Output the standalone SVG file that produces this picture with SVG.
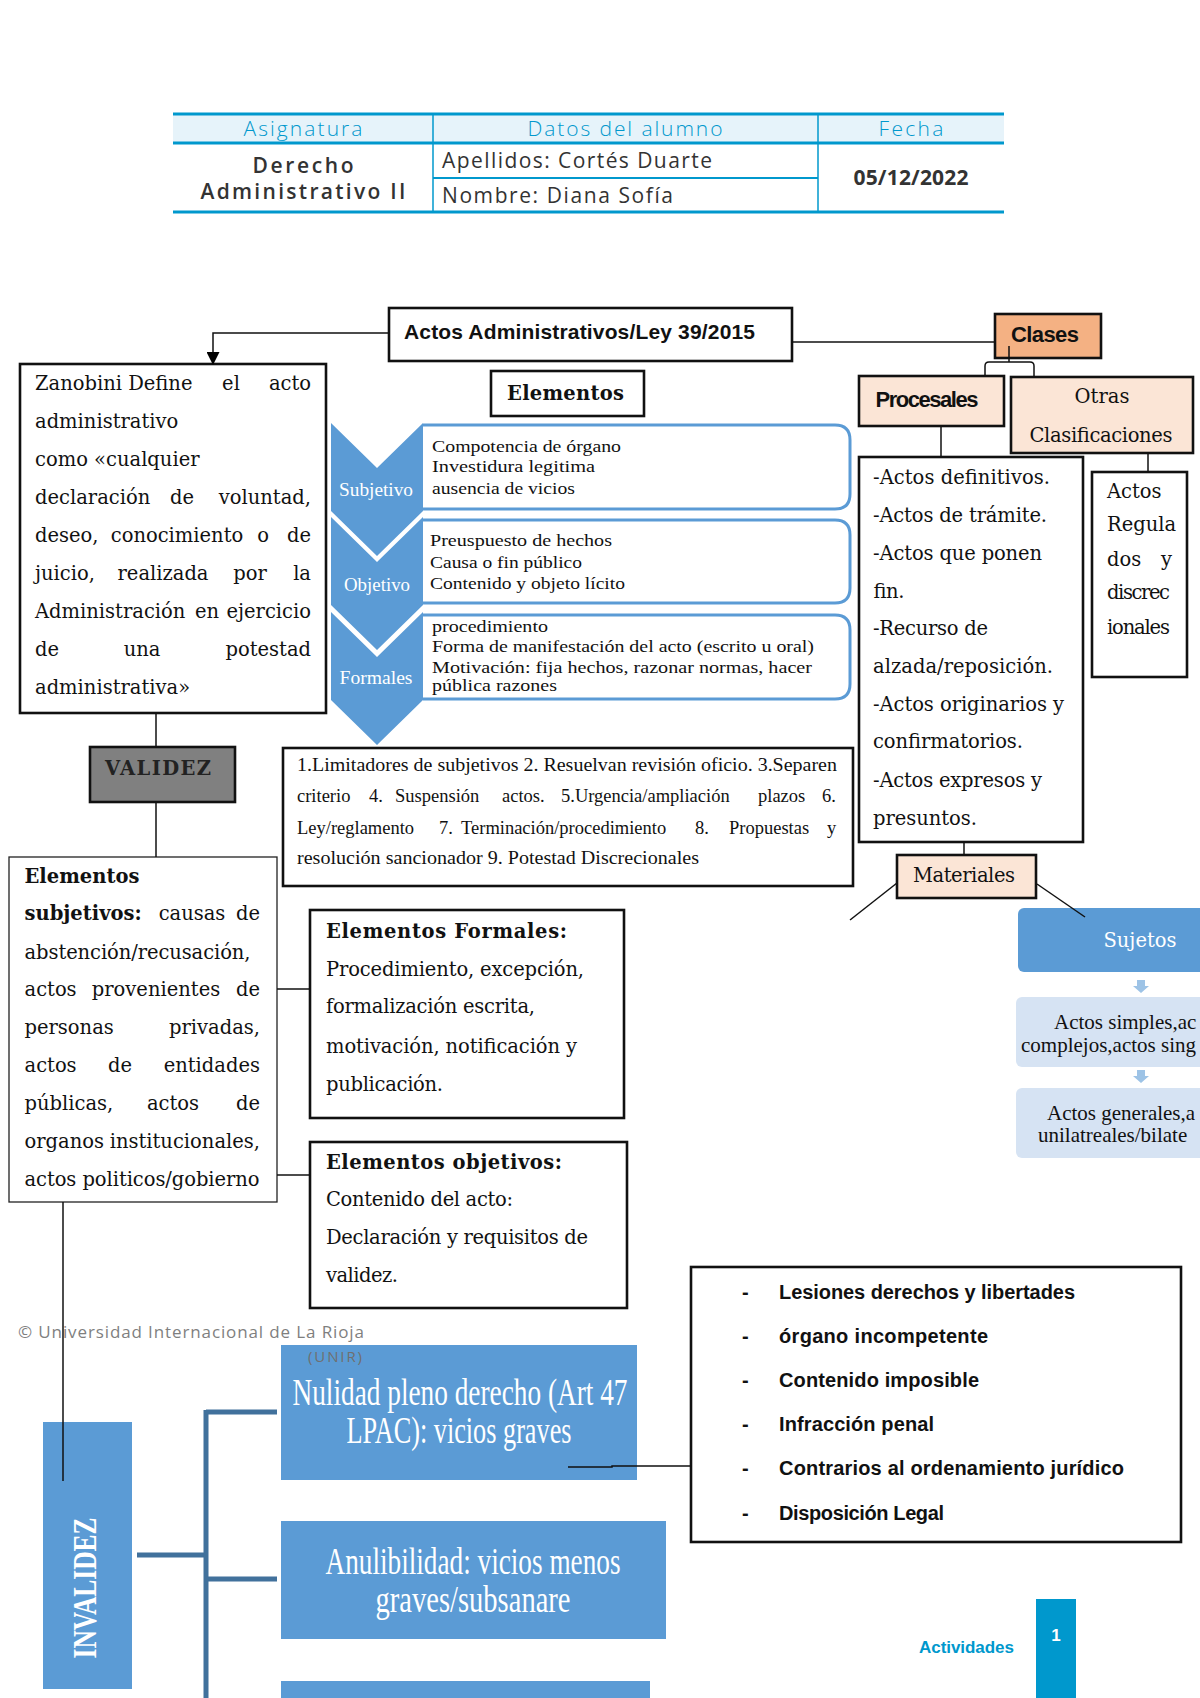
<svg xmlns="http://www.w3.org/2000/svg" width="1200" height="1698" viewBox="0 0 1200 1698">
<defs>
<marker id="arr" viewBox="0 0 10 10" refX="10" refY="5" markerWidth="13" markerHeight="13" markerUnits="userSpaceOnUse" orient="auto"><path d="M0,0 L10,5 L0,10 z" fill="#000"/></marker>
</defs>
<style>
.bx{fill:#fff;stroke:#111;stroke-width:2.6}
.tb{fill:#fff;stroke:#222;stroke-width:1.3}
.peach{fill:#FBE5D6;stroke:#111;stroke-width:2.6}
.cam{font-family:"DejaVu Serif","Liberation Serif",serif;font-size:19.5px;fill:#111}
.camb{font-family:"DejaVu Serif","Liberation Serif",serif;font-size:19.5px;font-weight:bold;fill:#111}
.cond{font-family:"Liberation Serif",serif;fill:#111}
.cal{font-family:"Liberation Sans",Arial,sans-serif;font-weight:bold;fill:#111}
.les{font-family:"Liberation Sans",Arial,sans-serif;font-weight:bold;font-size:20px;fill:#111}
.hd{font-family:"Open Sans","Liberation Sans",sans-serif;font-size:21px}
.conn{stroke:#111;stroke-width:1.5;fill:none}
.bconn{stroke:#41719C;stroke-width:5;fill:none}
.blue{fill:#5B9BD5}
.bout{fill:#fff;stroke:#5B9BD5;stroke-width:3}
.lt{fill:#D6E3F3}
</style>
<rect width="1200" height="1698" fill="#fff"/>

<g id="header">
<rect x="173" y="114" width="831" height="29" fill="#E6F3FA"/>
<line x1="173" y1="114" x2="1004" y2="114" stroke="#0098CD" stroke-width="3"/>
<line x1="173" y1="143" x2="1004" y2="143" stroke="#0098CD" stroke-width="3"/>
<line x1="433" y1="178" x2="818" y2="178" stroke="#0098CD" stroke-width="2"/>
<line x1="173" y1="212" x2="1004" y2="212" stroke="#0098CD" stroke-width="3"/>
<line x1="433" y1="114" x2="433" y2="212" stroke="#0098CD" stroke-width="1.5"/>
<line x1="818" y1="114" x2="818" y2="212" stroke="#0098CD" stroke-width="1.5"/>
<text class="hd" x="303" y="136" text-anchor="middle" fill="#0098CD" font-weight="300" textLength="119">Asignatura</text>
<text class="hd" x="625" y="136" text-anchor="middle" fill="#0098CD" font-weight="300" textLength="195">Datos del alumno</text>
<text class="hd" x="911" y="136" text-anchor="middle" fill="#0098CD" font-weight="300" textLength="65">Fecha</text>
<text class="hd" x="303" y="173" text-anchor="middle" fill="#333" font-weight="600" textLength="101">Derecho</text>
<text class="hd" x="303" y="199" text-anchor="middle" fill="#333" font-weight="600" textLength="205">Administrativo II</text>
<text class="hd" x="442" y="168" fill="#333" textLength="270">Apellidos: Cortés Duarte</text>
<text class="hd" x="442" y="203" fill="#333" textLength="231">Nombre: Diana Sofía</text>
<text class="hd" x="911" y="185" text-anchor="middle" fill="#333" font-weight="bold" font-size="20" textLength="115">05/12/2022</text>
</g>

<g id="actos">
<rect class="bx" x="389" y="308" width="403" height="53"/>
<text class="cal" x="404" y="339" font-size="21" textLength="351">Actos Administrativos/Ley 39/2015</text>
</g>

<g id="zanobini">
<rect class="bx" x="20" y="364" width="306" height="349"/>
<text class="cam" x="35" y="390">Zanobini Define</text>
<text class="cam" x="231" y="390" text-anchor="middle">el</text>
<text class="cam" x="311" y="390" text-anchor="end">acto</text>
<text class="cam" x="35" y="428">administrativo</text>
<text class="cam" x="35" y="466">como «cualquier</text>
<text class="cam" x="35" y="504">declaración</text>
<text class="cam" x="182" y="504" text-anchor="middle">de</text>
<text class="cam" x="311" y="504" text-anchor="end">voluntad,</text>
<text class="cam" x="35" y="542">deseo,</text>
<text class="cam" x="177" y="542" text-anchor="middle">conocimiento</text>
<text class="cam" x="263" y="542" text-anchor="middle">o</text>
<text class="cam" x="311" y="542" text-anchor="end">de</text>
<text class="cam" x="35" y="580">juicio,</text>
<text class="cam" x="163" y="580" text-anchor="middle">realizada</text>
<text class="cam" x="250" y="580" text-anchor="middle">por</text>
<text class="cam" x="311" y="580" text-anchor="end">la</text>
<text class="cam" x="35" y="618">Administración</text>
<text class="cam" x="207" y="618" text-anchor="middle">en</text>
<text class="cam" x="311" y="618" text-anchor="end">ejercicio</text>
<text class="cam" x="35" y="656">de</text>
<text class="cam" x="142" y="656" text-anchor="middle">una</text>
<text class="cam" x="311" y="656" text-anchor="end">potestad</text>
<text class="cam" x="35" y="694">administrativa»</text>
</g>

<g id="elementos">
<rect class="bx" x="491" y="371" width="153" height="45"/>
<text class="camb" x="507" y="400" font-size="20" textLength="117">Elementos</text>
</g>

<g id="box-subjetivo">
<path class="bout" d="M423,425 H835 Q850,425 850,440 V494 Q850,509 835,509 H423"/>
<text class="cond" font-size="17.5" x="432" y="452" textLength="189" lengthAdjust="spacingAndGlyphs">Compotencia de órgano</text>
<text class="cond" font-size="17.5" x="432" y="472" textLength="163" lengthAdjust="spacingAndGlyphs">Investidura legitima</text>
<text class="cond" font-size="17.5" x="432" y="494" textLength="143" lengthAdjust="spacingAndGlyphs">ausencia de vicios</text>
</g>
<g id="box-objetivo">
<path class="bout" d="M423,520 H835 Q850,520 850,535 V588 Q850,603 835,603 H423"/>
<text class="cond" font-size="17.5" x="430" y="546" textLength="182" lengthAdjust="spacingAndGlyphs">Preuspuesto de hechos</text>
<text class="cond" font-size="17.5" x="430" y="568" textLength="152" lengthAdjust="spacingAndGlyphs">Causa o fin público</text>
<text class="cond" font-size="17.5" x="430" y="589" textLength="195" lengthAdjust="spacingAndGlyphs">Contenido y objeto lícito</text>
</g>
<g id="box-formales">
<path class="bout" d="M423,615 H835 Q850,615 850,630 V684 Q850,699 835,699 H423"/>
<text class="cond" font-size="17.5" x="432" y="632" textLength="116" lengthAdjust="spacingAndGlyphs">procedimiento</text>
<text class="cond" font-size="17.5" x="432" y="652" textLength="382" lengthAdjust="spacingAndGlyphs">Forma de manifestación del acto (escrito u oral)</text>
<text class="cond" font-size="17.5" x="432" y="673" textLength="380" lengthAdjust="spacingAndGlyphs">Motivación:  fija hechos, razonar normas, hacer</text>
<text class="cond" font-size="17.5" x="432" y="691" textLength="125" lengthAdjust="spacingAndGlyphs">pública razones</text>
</g>

<g id="chevron-subjetivo">
<polygon class="blue" points="331,423 377,468 423,423 423,511 377,556 331,511"/>
<text class="cond" font-size="19" x="376" y="496" text-anchor="middle" textLength="74" lengthAdjust="spacingAndGlyphs" style="fill:#fff">Subjetivo</text>
</g>
<g id="chevron-objetivo">
<polygon class="blue" points="331,517 377,562 423,517 423,605 377,650 331,605"/>
<text class="cond" font-size="19" x="377" y="591" text-anchor="middle" textLength="66" lengthAdjust="spacingAndGlyphs" style="fill:#fff">Objetivo</text>
</g>
<g id="chevron-formales">
<polygon class="blue" points="331,612 377,657 423,612 423,700 377,745 331,700"/>
<text class="cond" font-size="19" x="376" y="684" text-anchor="middle" textLength="73" lengthAdjust="spacingAndGlyphs" style="fill:#fff">Formales</text>
</g>

<g id="numerados">
<rect class="bx" x="283" y="748" width="570" height="138"/>
<text class="cond" font-size="18.5" x="297" y="771" textLength="540" lengthAdjust="spacingAndGlyphs">1.Limitadores de subjetivos 2. Resuelvan revisión oficio. 3.Separen</text>
<text class="cond" font-size="18.5" y="802"><tspan x="297">criterio</tspan><tspan x="369">4.</tspan><tspan x="395">Suspensión</tspan><tspan x="502">actos.</tspan><tspan x="561">5.Urgencia/ampliación</tspan><tspan x="758">plazos</tspan><tspan x="822">6.</tspan></text>
<text class="cond" font-size="18.5" y="834"><tspan x="297">Ley/reglamento</tspan><tspan x="439">7.</tspan><tspan x="461">Terminación/procedimiento</tspan><tspan x="695">8.</tspan><tspan x="729">Propuestas</tspan><tspan x="827">y</tspan></text>
<text class="cond" font-size="18.5" x="297" y="864" textLength="402" lengthAdjust="spacingAndGlyphs">resolución sancionador 9. Potestad Discrecionales</text>
</g>

<g id="validez">
<rect x="90" y="747" width="145" height="55" fill="#808080" stroke="#111" stroke-width="2.6"/>
<text class="camb" x="158" y="775" font-size="20" text-anchor="middle" textLength="106" style="fill:#222">VALIDEZ</text>
</g>

<g id="subjetivos">
<rect class="tb" x="9" y="857" width="268" height="345"/>
<text class="camb" x="24.5" y="883">Elementos</text>
<text class="camb" x="24.5" y="920">subjetivos:</text>
<text class="cam" x="192" y="920" text-anchor="middle">causas</text>
<text class="cam" x="260" y="920" text-anchor="end">de</text>
<text class="cam" x="24.5" y="959" textLength="226">abstención/recusación,</text>
<text class="cam" x="24.5" y="996">actos</text>
<text class="cam" x="156" y="996" text-anchor="middle">provenientes</text>
<text class="cam" x="260" y="996" text-anchor="end">de</text>
<text class="cam" x="24.5" y="1034">personas</text>
<text class="cam" x="260" y="1034" text-anchor="end">privadas,</text>
<text class="cam" x="24.5" y="1072">actos</text>
<text class="cam" x="120" y="1072" text-anchor="middle">de</text>
<text class="cam" x="260" y="1072" text-anchor="end">entidades</text>
<text class="cam" x="24.5" y="1110">públicas,</text>
<text class="cam" x="173" y="1110" text-anchor="middle">actos</text>
<text class="cam" x="260" y="1110" text-anchor="end">de</text>
<text class="cam" x="24.5" y="1148">organos</text>
<text class="cam" x="260" y="1148" text-anchor="end">institucionales,</text>
<text class="cam" x="24.5" y="1186" textLength="235">actos politicos/gobierno</text>
</g>

<g id="formales">
<rect class="bx" x="310" y="910" width="314" height="208"/>
<text class="camb" x="326" y="938" textLength="241">Elementos Formales:</text>
<text class="cam" x="326" y="976" textLength="258">Procedimiento, excepción,</text>
<text class="cam" x="326" y="1013" textLength="209">formalización escrita,</text>
<text class="cam" x="326" y="1053" textLength="251">motivación, notificación y</text>
<text class="cam" x="326" y="1091" textLength="117">publicación.</text>
</g>

<g id="objetivos">
<rect class="bx" x="310" y="1142" width="317" height="166"/>
<text class="camb" x="326" y="1169" textLength="236">Elementos objetivos:</text>
<text class="cam" x="326" y="1206" textLength="187">Contenido del acto:</text>
<text class="cam" x="326" y="1244" textLength="262">Declaración y requisitos de</text>
<text class="cam" x="326" y="1282" textLength="72">validez.</text>
</g>

<g id="clases">
<rect x="995" y="314" width="106" height="44" fill="#F4B183" stroke="#111" stroke-width="2.6"/>
<text class="cal" x="1045" y="342" font-size="22" text-anchor="middle" textLength="68">Clases</text>
</g>

<g id="procesales">
<rect class="peach" x="859" y="376" width="145" height="50"/>
<text class="cal" x="927" y="407" font-size="22" text-anchor="middle" textLength="103">Procesales</text>
</g>

<g id="otras">
<rect class="peach" x="1011" y="377" width="182" height="76"/>
<text class="cam" x="1102" y="403" text-anchor="middle">Otras</text>
<text class="cam" x="1101" y="442" text-anchor="middle" textLength="143">Clasificaciones</text>
</g>

<g id="lista-procesales">
<rect class="bx" x="859" y="457" width="224" height="385"/>
<text class="cam" x="873" y="484" textLength="177">-Actos definitivos.</text>
<text class="cam" x="873" y="522" textLength="174">-Actos de trámite.</text>
<text class="cam" x="873" y="560" textLength="169">-Actos que ponen</text>
<text class="cam" x="873" y="598" textLength="31">fin.</text>
<text class="cam" x="873" y="635" textLength="115">-Recurso de</text>
<text class="cam" x="873" y="673" textLength="180">alzada/reposición.</text>
<text class="cam" x="873" y="711" textLength="191">-Actos originarios y</text>
<text class="cam" x="873" y="748" textLength="150">confirmatorios.</text>
<text class="cam" x="873" y="787" textLength="169">-Actos expresos y</text>
<text class="cam" x="873" y="825" textLength="104">presuntos.</text>
</g>

<g id="regulados">
<rect class="bx" x="1092" y="472" width="95" height="205"/>
<text class="cam" x="1107" y="498">Actos</text>
<text class="cam" x="1107" y="531">Regula</text>
<text class="cam" x="1107" y="566">dos</text>
<text class="cam" x="1172" y="566" text-anchor="end">y</text>
<text class="cam" x="1107" y="599" textLength="63">discrec</text>
<text class="cam" x="1107" y="634" textLength="63">ionales</text>
</g>

<g id="materiales">
<rect class="peach" x="897" y="855" width="139" height="43"/>
<text class="cam" x="964" y="882" text-anchor="middle" textLength="102">Materiales</text>
</g>

<g id="sujetos">
<rect class="blue" x="1018" y="908" width="240" height="64" rx="6"/>
<text class="cam" x="1140" y="947" text-anchor="middle" font-size="20" style="fill:#fff">Sujetos</text>
<polygon points="1137,980 1145,980 1145,986 1149,986 1141,993 1133,986 1137,986" fill="#9DC3E6"/>
<rect class="lt" x="1016" y="997" width="240" height="70" rx="6"/>
<text class="cond" font-size="21" x="1054" y="1029">Actos simples,ac</text>
<text class="cond" font-size="21" x="1021" y="1052">complejos,actos sing</text>
<polygon points="1137,1070 1145,1070 1145,1076 1149,1076 1141,1083 1133,1076 1137,1076" fill="#9DC3E6"/>
<rect class="lt" x="1016" y="1088" width="240" height="70" rx="6"/>
<text class="cond" font-size="21" x="1047" y="1120">Actos generales,a</text>
<text class="cond" font-size="21" x="1038" y="1142">unilatreales/bilate</text>
</g>

<g id="nulidad">
<rect class="blue" x="281" y="1345" width="356" height="135"/>
<text class="cond" font-size="37" x="460" y="1405" text-anchor="middle" textLength="335" lengthAdjust="spacingAndGlyphs" style="fill:#fff">Nulidad pleno derecho (Art 47</text>
<text class="cond" font-size="37" x="459" y="1443" text-anchor="middle" textLength="225" lengthAdjust="spacingAndGlyphs" style="fill:#fff">LPAC): vicios graves</text>
</g>

<g id="anulabilidad">
<rect class="blue" x="281" y="1521" width="385" height="118"/>
<text class="cond" font-size="37" x="473" y="1574" text-anchor="middle" textLength="295" lengthAdjust="spacingAndGlyphs" style="fill:#fff">Anulibilidad: vicios menos</text>
<text class="cond" font-size="37" x="473" y="1612" text-anchor="middle" textLength="195" lengthAdjust="spacingAndGlyphs" style="fill:#fff">graves/subsanare</text>
</g>

<g id="tercera">
<rect class="blue" x="281" y="1681" width="369" height="30"/>
</g>

<g id="invalidez">
<rect class="blue" x="43" y="1422" width="89" height="267"/>
<text class="cond" font-size="33" font-weight="bold" transform="translate(96,1588) rotate(-90)" text-anchor="middle" textLength="141" lengthAdjust="spacingAndGlyphs" style="fill:#fff">INVALIDEZ</text>
</g>

<g id="watermark">
<text x="18" y="1338" font-family="Open Sans, Liberation Sans, sans-serif" font-size="17" fill="#7F7F7F" textLength="346">© Universidad Internacional de La Rioja</text>
<text x="335" y="1362" font-family="Open Sans, Liberation Sans, sans-serif" font-size="15" fill="#6F6F6F" text-anchor="middle" textLength="54">(UNIR)</text>
</g>

<g id="lesiones">
<rect class="bx" x="691" y="1267" width="490" height="275"/>
<text class="les" x="742" y="1299">-</text>
<text class="les" x="779" y="1299" textLength="296">Lesiones derechos y libertades</text>
<text class="les" x="742" y="1343">-</text>
<text class="les" x="779" y="1343" textLength="209">órgano incompetente</text>
<text class="les" x="742" y="1387">-</text>
<text class="les" x="779" y="1387" textLength="200">Contenido imposible</text>
<text class="les" x="742" y="1431">-</text>
<text class="les" x="779" y="1431" textLength="155">Infracción penal</text>
<text class="les" x="742" y="1475">-</text>
<text class="les" x="779" y="1475" textLength="345">Contrarios al ordenamiento jurídico</text>
<text class="les" x="742" y="1520">-</text>
<text class="les" x="779" y="1520" textLength="165">Disposición Legal</text>
</g>

<g id="footer">
<text class="cal" x="919" y="1653" font-size="17" textLength="95" style="fill:#0098CD">Actividades</text>
<rect x="1036" y="1599" width="40" height="99" fill="#0098CD"/>
<text class="cal" x="1056" y="1641" font-size="17" text-anchor="middle" style="fill:#fff">1</text>
</g>

<g id="connectors">
<path class="conn" d="M389,333 H213 V365" marker-end="url(#arr)"/>
<path class="conn" d="M792,342 H994"/>
<path class="conn" d="M1009,346 V362 M985,376 V366 Q985,362 989,362 H1030 Q1034,362 1034,366 V377"/>
<path class="conn" d="M941,426 V457"/>
<path class="conn" d="M1148,453 V472"/>
<path class="conn" d="M964,842 V855"/>
<path class="conn" d="M897,883 L850,920"/>
<path class="conn" d="M1037,884 L1085,917"/>
<path class="conn" d="M156,713 V747"/>
<path class="conn" d="M156,802 V857"/>
<path class="conn" d="M277,989 H310"/>
<path class="conn" d="M277,1175 H310"/>
<path class="conn" d="M63,1202 V1481"/>
<path class="conn" d="M568,1467 H612 L612,1466 H691"/>
<path class="bconn" d="M137,1555 H206"/>
<path class="bconn" d="M206,1410 V1698"/>
<path class="bconn" d="M206,1412 H277"/>
<path class="bconn" d="M206,1579 H277"/>
</g>
</svg>
